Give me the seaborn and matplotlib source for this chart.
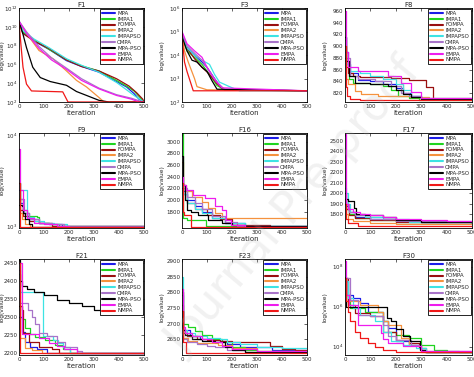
import pandas as pd
import seaborn as sns
import matplotlib.pyplot as plt
from matplotlib.ticker import NullLocator, FixedLocator

ALGOS = ["MPA", "IMPA1", "FOMPA", "IMPA2", "IMPAPSO", "CMPA", "MPA-PSO", "EMPA", "NMPA"]
COLORS = ["#1c1ce8", "#1fd41f", "#990f0f", "#f5923e", "#3de3e3", "#a874c9", "#000000", "#ee1cee", "#f01818"]

# convergence curves: algorithm -> (iterations, best value)
F1 = {
    "MPA": ([0, 15, 60, 120, 190, 250, 320, 390, 430, 460, 480, 500],
            [4e10, 3e9, 3e8, 4e7, 2.5e6, 6e5, 1.5e5, 1.5e4, 4e3, 8e2, 2e2, 1e2]),
    "IMPA1": ([0, 15, 60, 120, 190, 250, 320, 390, 430, 460, 490, 500],
              [4e10, 3e9, 4e8, 4e7, 3e6, 7e5, 2e5, 2e4, 5e3, 1.5e3, 2e2, 1e2]),
    "FOMPA": ([0, 15, 60, 120, 190, 250, 320, 390, 440, 470, 495, 500],
              [3e10, 2e9, 3e8, 5e7, 3e6, 6e5, 2e5, 3e4, 5e3, 1e3, 2e2, 1e2]),
    "IMPA2": ([0, 30, 80, 136, 190, 230, 270, 320, 340, 500],
              [4e10, 2e9, 3e7, 4e6, 2e5, 2e4, 4e3, 3e2, 1e2, 1e2]),
    "IMPAPSO": ([0, 15, 60, 120, 190, 250, 320, 390, 430, 460, 490, 500],
                [5e10, 4e9, 5e8, 6e7, 4e6, 8e5, 1.5e5, 1.2e4, 2e3, 5e2, 1.5e2, 1e2]),
    "CMPA": ([0, 30, 80, 130, 190, 250, 320, 390, 450, 490, 500],
             [4e10, 3e9, 8e7, 5e6, 4e5, 3e4, 3e3, 6e2, 2.5e2, 1.1e2, 1e2]),
    "MPA-PSO": ([0, 15, 30, 55, 85, 125, 190, 230, 270, 320, 360, 500],
                [4e10, 2e9, 6e7, 5e5, 4e4, 1.5e4, 6e3, 1.3e3, 5e2, 1.5e2, 1e2, 1e2]),
    "EMPA": ([0, 30, 80, 130, 190, 250, 320, 390, 450, 480, 500],
             [4e10, 2e9, 5e7, 3e6, 3e5, 2e4, 2.5e3, 5e2, 2e2, 1e2, 1e2]),
    "NMPA": ([0, 8, 16, 30, 50, 175, 196, 500],
             [4e10, 1e8, 5e5, 8e3, 1.5e3, 1.2e3, 1e2, 1e2]),
}

F3 = {
    "MPA": ([0, 20, 50, 80, 100, 130, 150, 170, 500], [7e4, 2e4, 1e4, 5e3, 3e3, 1e3, 500, 320, 300]),
    "IMPA1": ([0, 20, 50, 80, 110, 140, 170, 500], [6e4, 1.5e4, 8e3, 4e3, 1.5e3, 500, 330, 300]),
    "FOMPA": ([0, 20, 50, 80, 110, 140, 170, 500], [8e4, 2e4, 7e3, 3e3, 1.5e3, 600, 330, 300]),
    "IMPA2": ([0, 10, 25, 50, 60, 100, 500], [8e4, 1.5e4, 5e3, 1e3, 450, 330, 300]),
    "IMPAPSO": ([0, 20, 50, 80, 110, 130, 150, 190, 230, 500],
                [7e4, 2e4, 1e4, 6e3, 4e3, 1.5e3, 700, 450, 300, 300]),
    "CMPA": ([0, 20, 50, 80, 110, 140, 170, 500], [9e4, 2.5e4, 1.2e4, 6e3, 2e3, 700, 350, 300]),
    "MPA-PSO": ([0, 20, 40, 60, 80, 100, 120, 140, 500], [6e4, 1.5e4, 6e3, 5e3, 3e3, 2e3, 800, 350, 300]),
    "EMPA": ([0, 20, 50, 80, 100, 130, 160, 500], [1e5, 3e4, 1.5e4, 8e3, 3e3, 900, 400, 300]),
    "NMPA": ([0, 3, 10, 20, 45, 500], [8e4, 3e4, 5e3, 2e3, 300, 300]),
}

F8 = {
    "MPA": ([0, 3, 10, 20, 50, 100, 150, 200, 230, 260, 300, 500],
            [915, 890, 870, 855, 843, 840, 835, 828, 820, 815, 810, 810]),
    "IMPA1": ([0, 5, 15, 30, 100, 150, 180, 210, 250, 290, 500],
              [900, 870, 845, 837, 835, 832, 825, 815, 811, 809, 809]),
    "FOMPA": ([0, 3, 10, 30, 60, 180, 250, 320, 345, 500],
              [880, 865, 855, 850, 848, 846, 842, 830, 810, 810]),
    "IMPA2": ([0, 3, 13, 38, 64, 128, 256, 330, 500], [875, 845, 835, 824, 819, 816, 813, 811, 810]),
    "IMPAPSO": ([0, 5, 20, 60, 100, 150, 200, 230, 260, 300, 500],
                [890, 870, 858, 855, 850, 845, 835, 825, 815, 811, 811]),
    "CMPA": ([0, 5, 20, 50, 120, 180, 220, 250, 300, 500], [910, 880, 850, 845, 840, 832, 820, 815, 810, 810]),
    "MPA-PSO": ([0, 5, 15, 40, 100, 170, 200, 230, 260, 300, 500],
                [915, 875, 850, 837, 836, 833, 825, 818, 813, 810, 810]),
    "EMPA": ([0, 3, 10, 50, 170, 220, 260, 300, 500], [960, 890, 865, 858, 850, 838, 822, 812, 812]),
    "NMPA": ([0, 3, 8, 20, 60, 500], [900, 830, 815, 810, 808, 808]),
}

F9 = {
    "MPA": ([0, 5, 15, 40, 80, 120, 170, 500], [2500, 1800, 1400, 1200, 1100, 1050, 1000, 980]),
    "IMPA1": ([0, 5, 15, 30, 70, 80, 120, 160, 500], [3000, 2000, 1500, 1300, 1260, 1100, 1050, 1000, 980]),
    "FOMPA": ([0, 5, 15, 40, 80, 130, 500], [2000, 1500, 1300, 1150, 1080, 1020, 980]),
    "IMPA2": ([0, 3, 10, 25, 45, 500], [2000, 1400, 1200, 1050, 990, 980]),
    "IMPAPSO": ([0, 4, 30, 60, 100, 140, 190, 500], [3000, 2500, 1260, 1150, 1100, 1050, 990, 980]),
    "CMPA": ([0, 5, 20, 40, 80, 130, 180, 500], [3000, 2000, 1400, 1200, 1100, 1050, 1000, 980]),
    "MPA-PSO": ([0, 10, 15, 25, 40, 50, 500], [1700, 1650, 1400, 1200, 1050, 985, 980]),
    "EMPA": ([0, 2, 5, 15, 30, 60, 100, 150, 200, 500],
             [7000, 4000, 2500, 1500, 1250, 1100, 1050, 1020, 990, 980]),
    "NMPA": ([0, 3, 500], [3000, 980, 980]),
}

F16 = {
    "MPA": ([0, 5, 20, 50, 80, 120, 170, 250, 500], [2300, 2150, 2000, 1900, 1800, 1700, 1600, 1560, 1545]),
    "IMPA1": ([0, 4, 20, 95, 500], [3150, 1700, 1650, 1548, 1548]),
    "FOMPA": ([0, 5, 20, 50, 100, 150, 200, 350, 500], [2200, 2100, 1950, 1850, 1750, 1680, 1575, 1540, 1540]),
    "IMPA2": ([0, 5, 15, 40, 80, 105, 130, 160, 500], [2650, 2250, 2150, 2060, 1970, 1860, 1780, 1690, 1690]),
    "IMPAPSO": ([0, 5, 20, 50, 80, 120, 170, 250, 500], [2250, 2100, 1950, 1850, 1780, 1700, 1610, 1555, 1545]),
    "CMPA": ([0, 5, 20, 50, 80, 120, 170, 220, 500], [2350, 2200, 2050, 1950, 1850, 1720, 1620, 1560, 1545]),
    "MPA-PSO": ([0, 3, 10, 20, 35, 65, 105, 160, 200, 250, 500],
                [2750, 2250, 2000, 1830, 1800, 1745, 1660, 1600, 1575, 1548, 1545]),
    "EMPA": ([0, 5, 15, 45, 90, 130, 160, 175, 195, 250, 500],
             [2400, 2250, 2170, 2085, 2030, 1890, 1830, 1660, 1575, 1540, 1540]),
    "NMPA": ([0, 2, 8, 35, 500], [2300, 1800, 1740, 1532, 1532]),
}

F17 = {
    "MPA": ([0, 5, 15, 40, 100, 200, 300, 500], [1950, 1880, 1820, 1780, 1760, 1740, 1725, 1715]),
    "IMPA1": ([0, 5, 15, 40, 100, 200, 500], [1900, 1850, 1800, 1770, 1750, 1725, 1712]),
    "FOMPA": ([0, 5, 15, 40, 100, 200, 500], [1950, 1850, 1790, 1770, 1750, 1730, 1718]),
    "IMPA2": ([0, 3, 10, 30, 100, 200, 500], [1850, 1800, 1760, 1740, 1720, 1705, 1700]),
    "IMPAPSO": ([0, 5, 12, 20, 40, 80, 150, 250, 500], [2050, 2000, 1900, 1820, 1790, 1780, 1760, 1730, 1720]),
    "CMPA": ([0, 5, 15, 40, 100, 200, 500], [2000, 1900, 1820, 1790, 1760, 1735, 1722]),
    "MPA-PSO": ([0, 3, 12, 35, 45, 80, 150, 200, 300, 500],
                [2000, 1950, 1930, 1860, 1800, 1790, 1775, 1750, 1725, 1715]),
    "EMPA": ([0, 3, 10, 30, 60, 100, 150, 200, 300, 400, 500],
             [2570, 1900, 1850, 1820, 1800, 1790, 1775, 1760, 1745, 1735, 1730]),
    "NMPA": ([0, 3, 10, 50, 500], [1900, 1760, 1720, 1690, 1690]),
}

F21 = {
    "MPA": ([0, 10, 25, 45, 70, 110, 500], [2300, 2258, 2230, 2216, 2210, 2200, 2200]),
    "IMPA1": ([0, 10, 25, 45, 65, 105, 145, 175, 205, 500],
              [2330, 2295, 2268, 2252, 2243, 2235, 2220, 2210, 2200, 2200]),
    "FOMPA": ([0, 10, 15, 40, 80, 130, 160, 500], [2330, 2320, 2255, 2230, 2215, 2210, 2200, 2200]),
    "IMPA2": ([0, 3, 25, 50, 90, 500], [2420, 2240, 2212, 2206, 2200, 2200]),
    "IMPAPSO": ([0, 3, 95, 135, 155, 175, 205, 500], [2420, 2370, 2245, 2236, 2228, 2215, 2200, 2200]),
    "CMPA": ([0, 5, 35, 50, 65, 80, 110, 150, 185, 230, 250, 500],
             [2430, 2340, 2320, 2300, 2280, 2255, 2245, 2230, 2215, 2205, 2200, 2200]),
    "MPA-PSO": ([0, 5, 10, 30, 60, 100, 150, 200, 250, 300, 350, 420, 490, 500],
                [2460, 2400, 2385, 2378, 2370, 2360, 2348, 2338, 2330, 2320, 2314, 2312, 2308, 2308]),
    "EMPA": ([0, 12, 80, 120, 150, 180, 230, 500], [2450, 2252, 2240, 2228, 2218, 2210, 2200, 2200]),
    "NMPA": ([0, 3, 500], [2450, 2200, 2200]),
}

F23 = {
    "MPA": ([0, 5, 30, 70, 110, 150, 180, 230, 360, 500],
            [2790, 2680, 2660, 2650, 2648, 2645, 2635, 2625, 2615, 2612]),
    "IMPA1": ([0, 5, 25, 50, 80, 120, 160, 200, 250, 300, 500],
              [2800, 2700, 2690, 2678, 2665, 2650, 2640, 2625, 2617, 2612, 2610]),
    "FOMPA": ([0, 5, 20, 60, 100, 150, 200, 350, 400, 450, 500],
              [2760, 2670, 2660, 2652, 2648, 2645, 2643, 2628, 2618, 2615, 2612]),
    "IMPA2": ([0, 5, 25, 60, 145, 200, 300, 500], [2800, 2655, 2645, 2638, 2632, 2622, 2612, 2610]),
    "IMPAPSO": ([0, 5, 20, 50, 100, 150, 180, 230, 300, 400, 500],
                [2850, 2680, 2670, 2660, 2655, 2650, 2640, 2635, 2625, 2622, 2620]),
    "CMPA": ([0, 5, 20, 60, 100, 130, 180, 250, 500], [2800, 2650, 2640, 2635, 2630, 2625, 2615, 2610, 2609]),
    "MPA-PSO": ([0, 3, 10, 40, 80, 130, 170, 200, 250, 500],
                [2740, 2680, 2665, 2650, 2645, 2640, 2625, 2615, 2610, 2609]),
    "EMPA": ([0, 3, 10, 40, 80, 120, 160, 200, 300, 500],
             [2810, 2690, 2670, 2660, 2650, 2640, 2630, 2620, 2614, 2612]),
    "NMPA": ([0, 3, 15, 500], [2740, 2640, 2607, 2607]),
}

F30 = {
    "MPA": ([0, 10, 30, 60, 90, 150, 170, 200, 250, 300, 320, 500],
            [2e7, 3.8e6, 2.6e6, 1.5e6, 5.6e5, 1.8e5, 8.3e4, 1.8e4, 1.2e4, 6.8e3, 5.4e3, 5.2e3]),
    "IMPA1": ([0, 5, 20, 80, 150, 170, 200, 250, 300, 350, 400, 450, 500],
              [3e7, 3.8e6, 8.3e5, 5.6e5, 1.8e5, 5.6e4, 3.8e4, 2.6e4, 1.2e4, 6.5e3, 6e3, 5.5e3, 5.2e3]),
    "FOMPA": ([0, 10, 40, 100, 150, 200, 250, 290, 320, 500],
              [2.6e7, 1.2e6, 4.6e5, 3.2e5, 5.6e4, 2.2e4, 1.5e4, 8.3e3, 5.6e3, 5.2e3]),
    "IMPA2": ([0, 5, 20, 60, 130, 150, 170, 220, 250, 300, 500],
              [2e7, 2e6, 1.8e6, 1.2e6, 5.6e5, 1.8e5, 1.2e5, 2.6e4, 1.2e4, 5.6e3, 5.2e3]),
    "IMPAPSO": ([0, 10, 30, 60, 120, 150, 180, 230, 280, 320, 500],
                [2e7, 2.6e6, 8.3e5, 3.8e5, 1.8e5, 5.6e4, 1.8e4, 1.2e4, 8.3e3, 5.6e3, 5.2e3]),
    "CMPA": ([0, 20, 50, 100, 150, 170, 200, 260, 300, 500],
             [2.6e7, 2.2e6, 3.8e5, 3.2e5, 1.2e5, 3.2e4, 2.2e4, 1.2e4, 6.1e3, 5.2e3]),
    "MPA-PSO": ([0, 5, 165, 180, 200, 230, 255, 295, 315, 500],
                [2.6e7, 1e6, 2.6e5, 1.8e5, 8e4, 3.2e4, 1.8e4, 7e3, 5.2e3, 5.2e3]),
    "EMPA": ([0, 5, 15, 50, 140, 150, 170, 230, 300, 500],
             [1.8e8, 4e6, 1.2e6, 1.2e5, 5e4, 2.5e4, 1.5e4, 1.1e4, 6e3, 5.2e3]),
    "NMPA": ([0, 5, 10, 20, 40, 60, 90, 120, 150, 200, 500],
             [2.6e7, 2e6, 5.6e5, 1.8e5, 5.6e4, 2.6e4, 1.5e4, 1e4, 6.8e3, 5.2e3, 5.2e3]),
}

X_TICKS = [0, 100, 200, 300, 400, 500]

# title, curves, y scale, y limits, y ticks, stepped lines
PANELS = [
    ("F1", F1, "log", (1e2, 1e12), [1e2, 1e4, 1e6, 1e8, 1e10, 1e12], False),
    ("F3", F3, "log", (1e2, 1e6), [1e2, 1e3, 1e4, 1e5, 1e6], False),
    ("F8", F8, "linear", (805, 965), [820, 840, 860, 880, 900, 920, 940, 960], True),
    ("F9", F9, "log", (960, 1.05e4), [1e3, 1e4], True),
    ("F16", F16, "linear", (1520, 3150), [1800, 2000, 2200, 2400, 2600, 2800, 3000], True),
    ("F17", F17, "linear", (1671, 2575), [1800, 1900, 2000, 2100, 2200, 2300, 2400, 2500], True),
    ("F21", F21, "linear", (2193, 2462), [2200, 2250, 2300, 2350, 2400, 2450], True),
    ("F23", F23, "linear", (2600, 2906), [2650, 2700, 2750, 2800, 2850, 2900], True),
    ("F30", F30, "log", (3800, 2.4e8), [1e4, 1e6, 1e8], True),
]

sns.set_style("white")
plt.rcParams["font.family"] = ["DejaVu Sans"]

W, H = 474, 377
fig = plt.figure(figsize=(W / 100, H / 100), dpi=100)

col_left = [19, 182, 345]
col_w = [125, 125, 127]
row_top = [8, 133, 259]
row_h = [94, 95, 96]

for k, (title, curves, scale, ylim, yticks, steps) in enumerate(PANELS):
    r, c = divmod(k, 3)
    ax = fig.add_axes([col_left[c] / W, (H - row_top[r] - row_h[r]) / H, col_w[c] / W, row_h[r] / H])

    rows = []
    for alg in ALGOS:
        its, vals = curves[alg]
        rows += [(alg, i, v) for i, v in zip(its, vals)]
    df = pd.DataFrame(rows, columns=["algorithm", "iteration", "value"])

    sns.lineplot(data=df, x="iteration", y="value", hue="algorithm", hue_order=ALGOS,
                 palette=COLORS, estimator=None, legend=False, ax=ax, lw=0.9,
                 drawstyle="steps-post" if steps else "default")

    ax.set_yscale(scale)
    ax.set_xlim(0, 500)
    ax.set_ylim(*ylim)
    ax.xaxis.set_major_locator(FixedLocator(X_TICKS))
    ax.yaxis.set_major_locator(FixedLocator(yticks))
    ax.yaxis.set_minor_locator(NullLocator())
    ax.xaxis.set_minor_locator(NullLocator())

    ax.set_title(title, fontsize=5, pad=0.8)
    ax.set_xlabel("iteration", fontsize=5, labelpad=1)
    ax.set_ylabel("log(value)", fontsize=4.2)
    ax.yaxis.set_label_coords(-0.118 if c == 0 else -0.14, 0.5)
    ax.tick_params(direction="in", top=True, right=True, length=2, width=0.5,
                   labelsize=4.0, pad=1.2)
    for sp in ax.spines.values():
        sp.set_linewidth(0.6)
        sp.set_color("black")

    leg = ax.legend(ax.lines[:len(ALGOS)], ALGOS, loc="upper right", fontsize=4,
                    frameon=True, fancybox=False, edgecolor="black", framealpha=1,
                    labelspacing=0.15, handlelength=2.3, handletextpad=0.4,
                    borderpad=0.3, borderaxespad=0.2)
    leg.get_frame().set_linewidth(0.6)
    for ln in leg.get_lines():
        ln.set_linewidth(1.5)

fig.text(0.62, 0.45, "Journal Pre-proof", rotation=50, fontsize=32, color="#b0b0b0",
         alpha=0.18, ha="center", va="center")

fig.savefig("out.png", dpi=100)
